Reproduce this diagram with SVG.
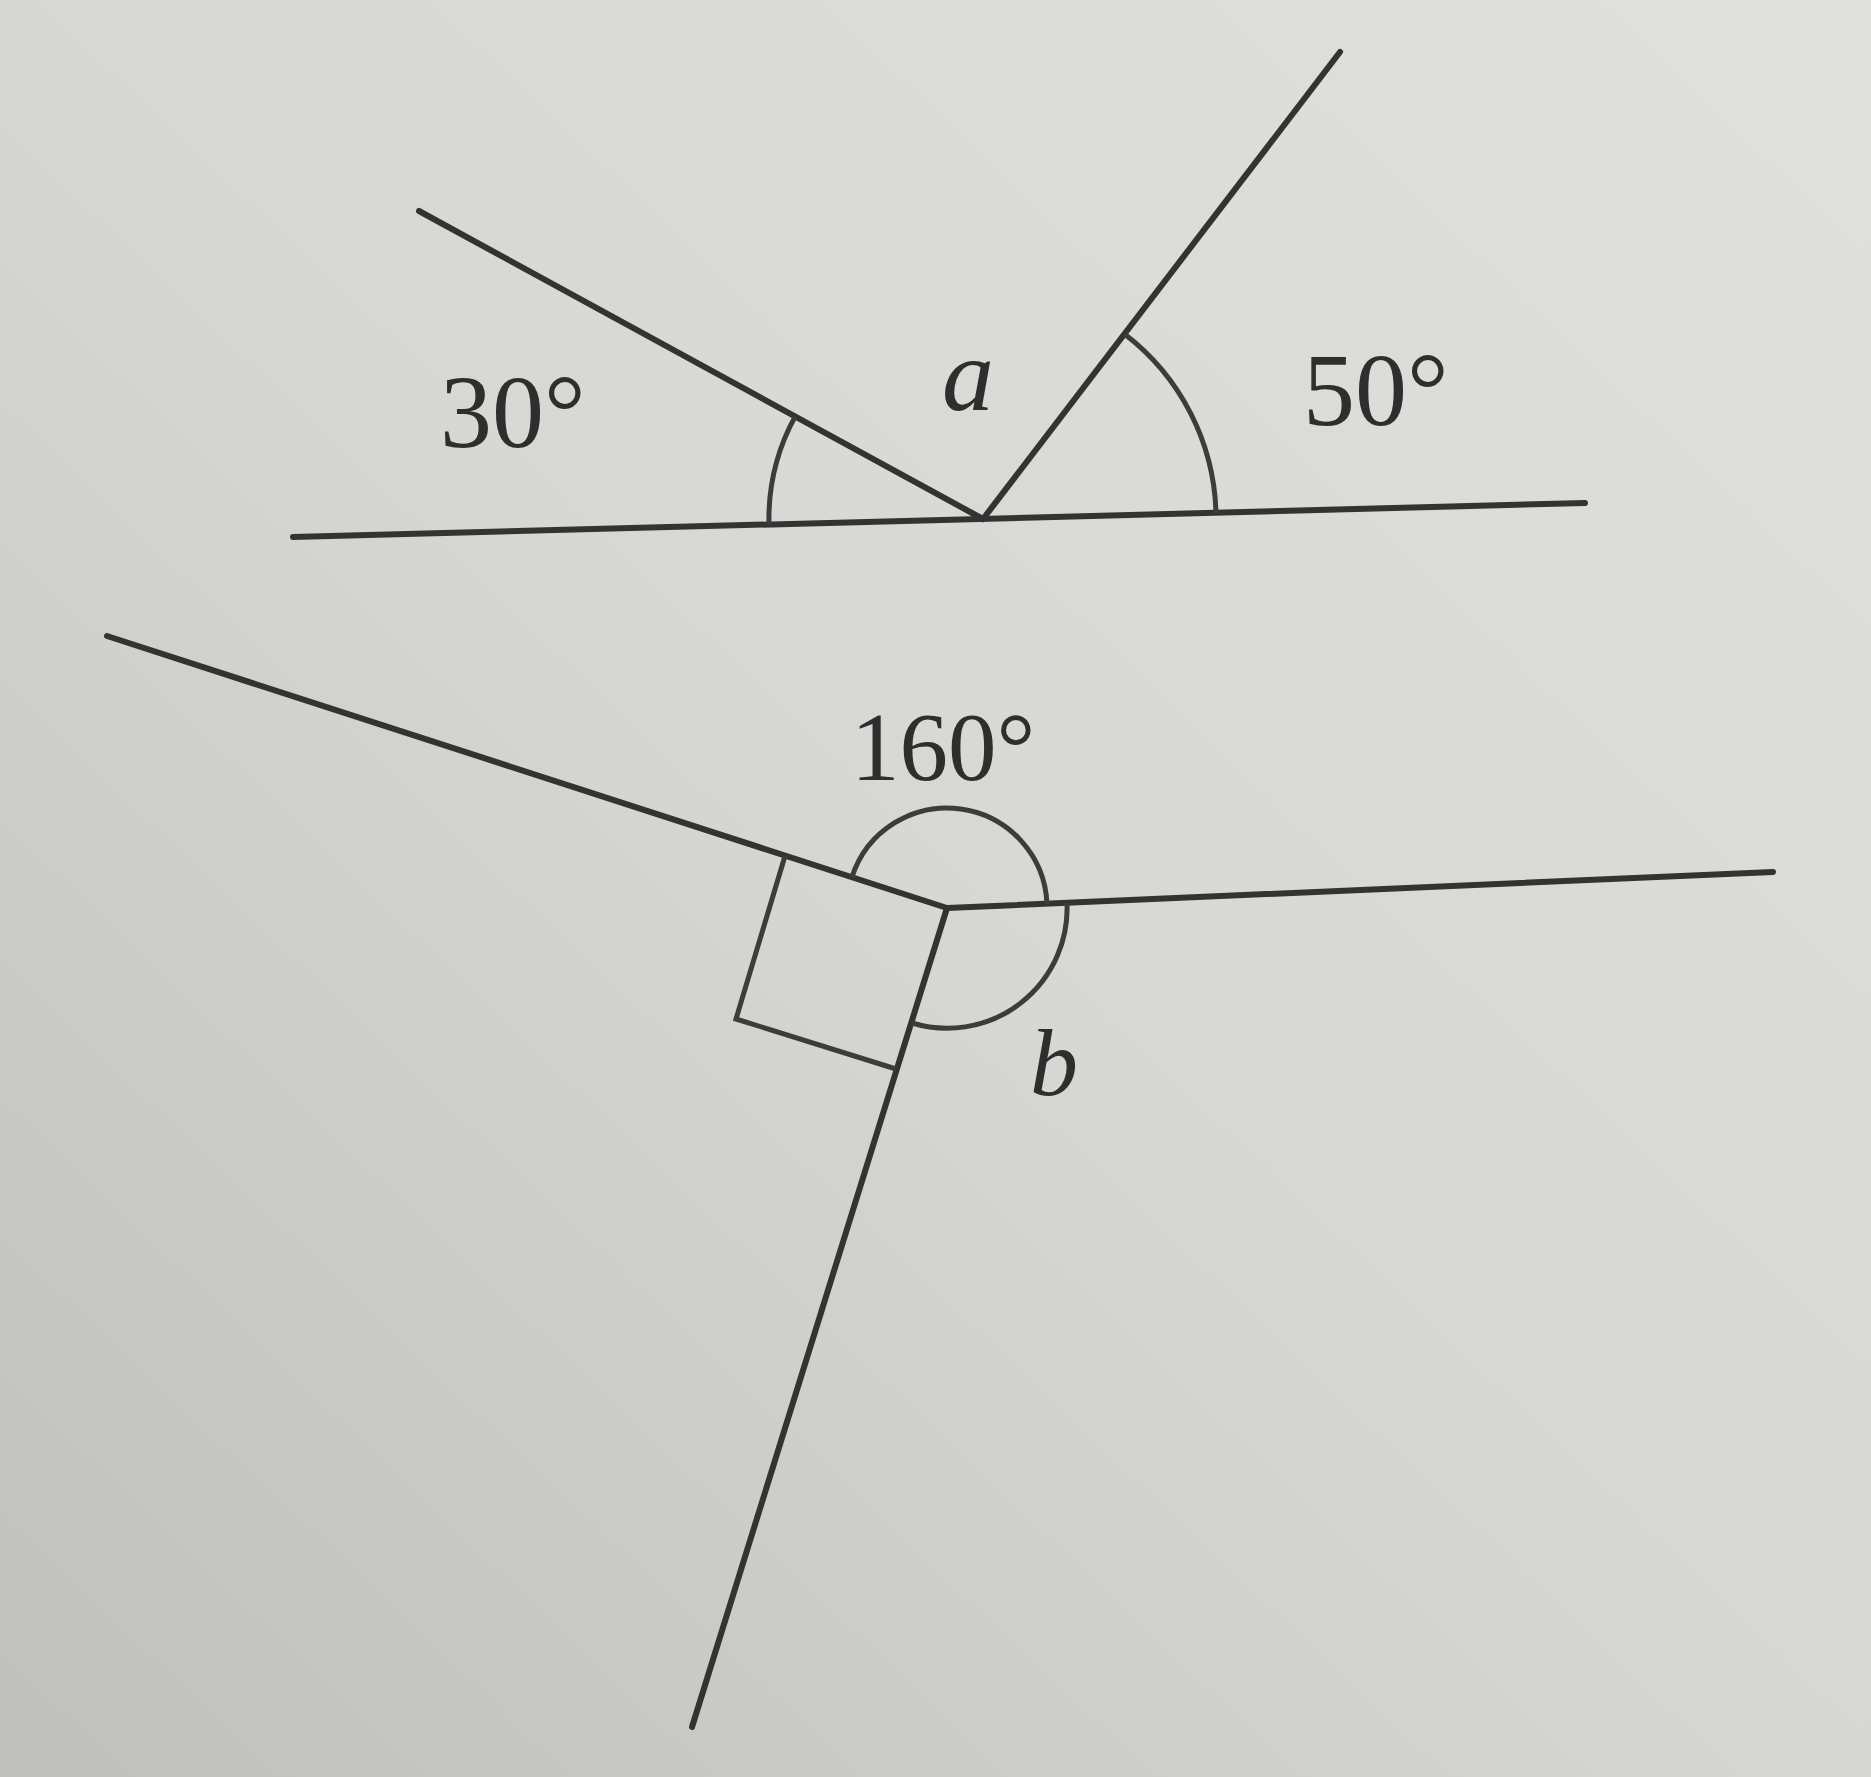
<svg xmlns="http://www.w3.org/2000/svg" width="1871" height="1777" viewBox="0 0 1871 1777">
  <defs>
    <linearGradient id="bg" x1="1" y1="0" x2="0" y2="1">
      <stop offset="0" stop-color="#e0e0dc"/>
      <stop offset="0.5" stop-color="#d7d7d3"/>
      <stop offset="1" stop-color="#bfbfbb"/>
    </linearGradient>
    <style>
      .ln { stroke: #333333; stroke-width: 6; fill: none; stroke-linecap: round; }
      .arc { stroke: #3c3c3c; stroke-width: 5; fill: none; }
      .lbl { font-family: "Liberation Serif", "Times New Roman", serif; font-size: 104px; fill: #2e2e2e; }
      .it { font-style: italic; }
    </style>
  </defs>
  <rect width="1871" height="1777" fill="url(#bg)"/>

  <g id="connectors">
    <line class="ln" x1="293" y1="537" x2="1585" y2="503"/>
    <line class="ln" x1="983" y1="519" x2="419" y2="211"/>
    <line class="ln" x1="983" y1="519" x2="1340" y2="52"/>
    <line class="ln" x1="947" y1="908" x2="107" y2="636"/>
    <line class="ln" x1="947" y1="908" x2="1773" y2="872"/>
    <line class="ln" x1="947" y1="908" x2="692" y2="1727"/>
  </g>

  <g id="angle-30">
    <path class="arc" d="M769,524.6 A214,214 0 0 1 795.2,416.4"/>
    <text class="lbl" x="440" y="447">30°</text>
  </g>
  <g id="angle-50">
    <path class="arc" d="M1124.5,333.9 A233,233 0 0 1 1216,512.9"/>
    <text class="lbl" x="1303" y="425">50°</text>
  </g>
  <g id="angle-a">
    <text class="lbl it" x="942" y="410">a</text>
  </g>

  <g id="right-angle">
    <polyline class="arc" points="785,856 736,1019 896,1069"/>
  </g>
  <g id="angle-160">
    <path class="arc" d="M852,877 A100,100 0 0 1 1047,904"/>
    <text class="lbl" x="851" y="780" style="font-size:97px">160°</text>
  </g>
  <g id="angle-b">
    <path class="arc" d="M1067,903 A120,120 0 0 1 912,1023"/>
    <text class="lbl it" x="1030" y="1095" style="font-size:96px">b</text>
  </g>
</svg>
